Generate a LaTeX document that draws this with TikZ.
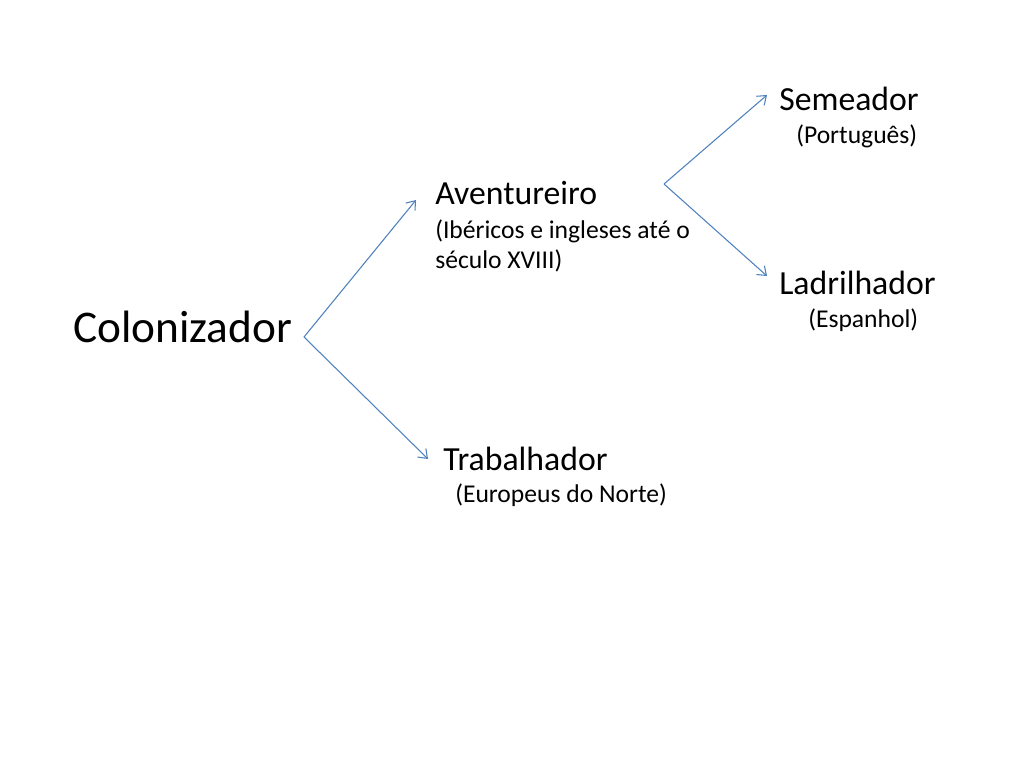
\documentclass[tikz,border=0pt]{standalone}
\usepackage{fontspec}
\setmainfont{Carlito}
\usetikzlibrary{arrows.meta, positioning, calc}
\usepackage{xcolor}
\definecolor{linkblue}{RGB}{79,129,189}

\begin{document}
\begin{tikzpicture}[x=0.75pt, y=-0.75pt,
    big/.style={anchor=base west, inner sep=0pt, font=\fontsize{34}{40}\selectfont},
    title/.style={anchor=base west, inner sep=0pt, font=\fontsize{25.3}{30}\selectfont},
    note/.style={anchor=base west, inner sep=0pt, align=left, font=\fontsize{19.2}{22.5}\selectfont},
    link/.style={draw=linkblue, line width=0.8pt, -{Straight Barb[length=6pt, width=9pt]}}]
  \useasboundingbox (0,0) rectangle (1024,768);
  % main concept
  \node[big] (colonizador) at (73,342) {Colonizador};
  % first level
  \node[title] (aventureiro) at (435,204) {Aventureiro};
  \node[note] (aventnote) at (435,268) {(Ibéricos e ingleses até o\\século XVIII)};
  \node[title] (trabalhador) at (443,470) {Trabalhador};
  \node[note] (trabnote) at (455,502) {(Europeus do Norte)};
  % second level
  \node[title] (semeador) at (779,110) {Semeador};
  \node[note] (semnote) at (796,143) {(Português)};
  \node[title] (ladrilhador) at (779,294) {Ladrilhador};
  \node[note] (ladnote) at (808,327) {(Espanhol)};
  % fork points and tips
  \coordinate (fork1) at (304,337);
  \coordinate (fork2) at (664,184);
  \coordinate (tipA) at (416,200);
  \coordinate (tipT) at (428,459);
  \coordinate (tipS) at (767,95);
  \coordinate (tipL) at (767,276);
  \draw[link] (fork1) -- (tipA);
  \draw[link] (fork1) -- (tipT);
  \draw[link] (fork2) -- (tipS);
  \draw[link] (fork2) -- (tipL);
\end{tikzpicture}
\end{document}
